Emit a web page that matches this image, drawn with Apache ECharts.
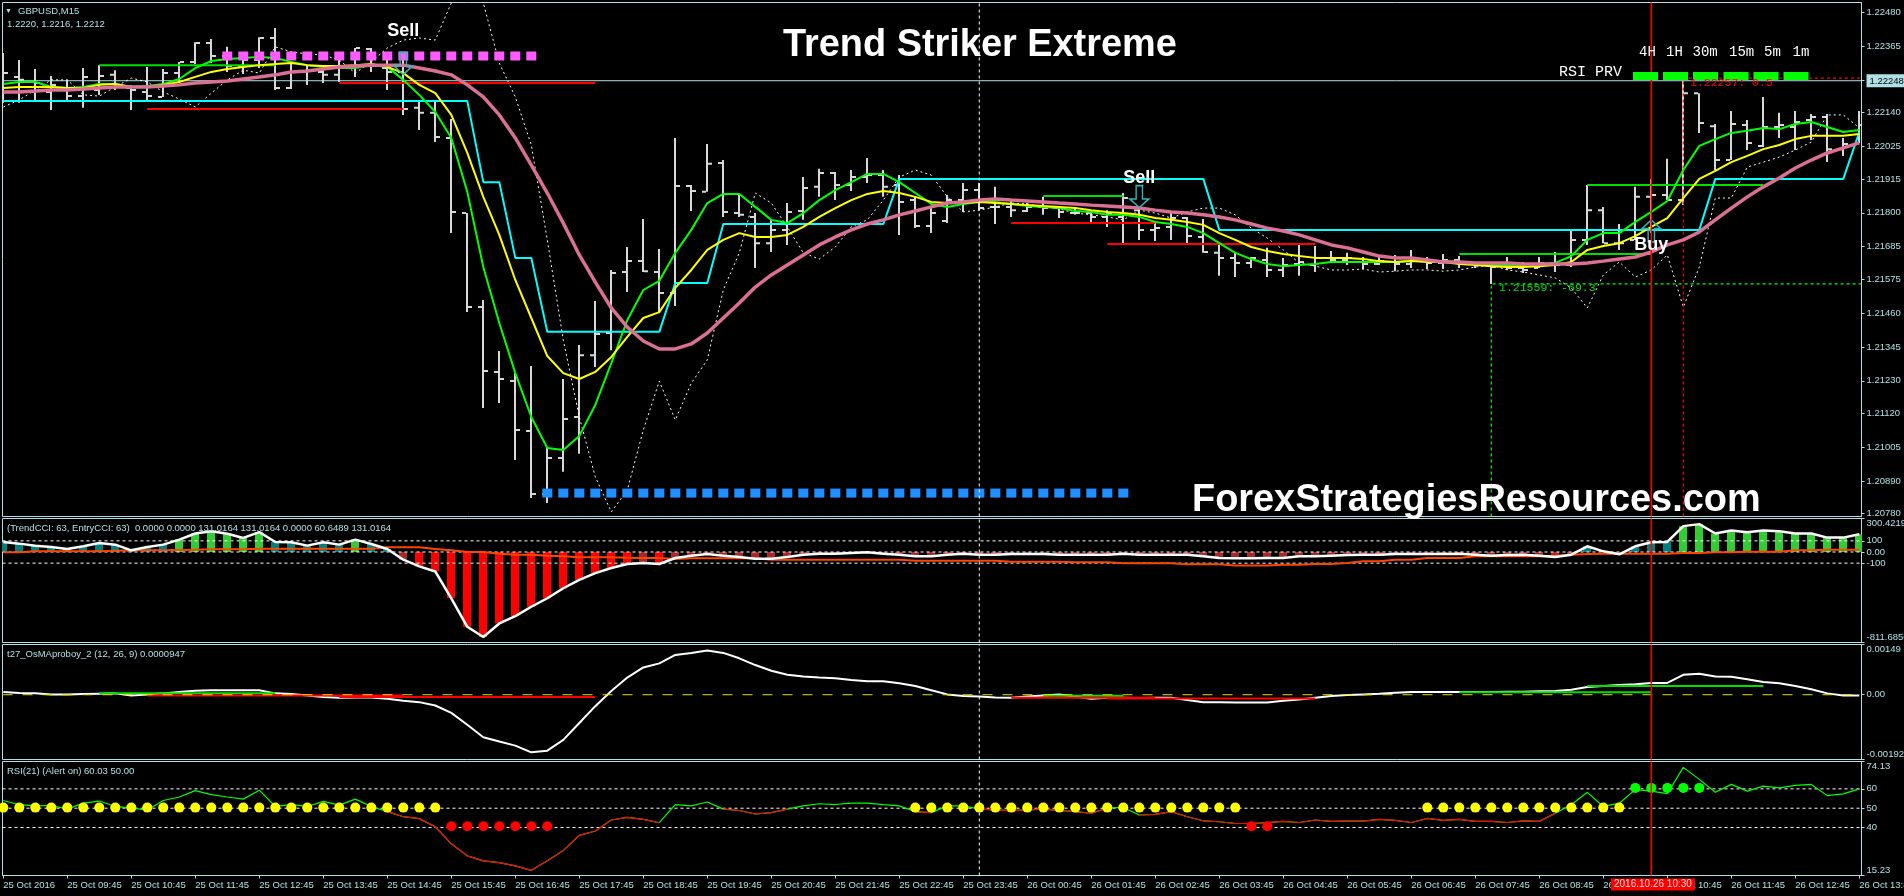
<!DOCTYPE html>
<html>
<head>
    <meta charset="UTF-8">
    <title>Trend Striker Extreme</title>
    <script src="https://cdn.jsdelivr.net/npm/echarts@6/dist/echarts.min.js"></script>
    <style>
        html, body { margin: 0; padding: 0; background: #000; overflow: hidden; }
        #chart { width: 1904px; height: 896px; }
    </style>
</head>
<body>
<div id="chart"></div>
<script>
    // x tick labels, one every 4 bars (M15)
    var timeLabels = ['25 Oct 2016','25 Oct 09:45','25 Oct 10:45','25 Oct 11:45','25 Oct 12:45','25 Oct 13:45','25 Oct 14:45','25 Oct 15:45','25 Oct 16:45','25 Oct 17:45',
        '25 Oct 18:45','25 Oct 19:45','25 Oct 20:45','25 Oct 21:45','25 Oct 22:45','25 Oct 23:45','26 Oct 00:45','26 Oct 01:45','26 Oct 02:45','26 Oct 03:45',
        '26 Oct 04:45','26 Oct 05:45','26 Oct 06:45','26 Oct 07:45','26 Oct 08:45','26 Oct 09:45','26 Oct 10:45','26 Oct 11:45','26 Oct 12:45','26 Oct 13:45'];

    // prices are kept in points, 1 point = 0.00001
    var barOpen = [122278,122261,122210,122210,122217,122196,122217,122268,122223,122210,
        122193,122274,122312,122376,122332,122298,122318,122393,122223,122278,
        122278,122268,122291,122356,122291,122278,122156,122139,122054,121799,
        121480,121260,121229,121060,120846,120968,121107,121317,121392,121599,
        121636,121599,121528,121891,121871,121969,121799,121786,121697,121742,
        121806,121888,121935,121894,121921,121928,121894,121843,121755,121772,
        121843,121877,121820,121820,121806,121820,121816,121799,121799,121786,
        121786,121809,121742,121752,121782,121718,121664,121647,121630,121640,
        121606,121626,121623,121647,121640,121633,121626,121633,121626,121640,
        121630,121640,121630,121623,121619,121613,121613,121630,121623,121708,
        121809,121697,121708,121854,121860,121843,122206,122094,121979,122098,
        122027,122091,122091,122115,122125,122016,122033];
    var barClose = [122274,122251,122240,122234,122196,122261,122264,122234,122217,122196,
        122274,122312,122376,122332,122298,122318,122393,122223,122278,122281,
        122268,122291,122359,122325,122278,122152,122139,122057,121803,121480,
        121263,121236,121063,120846,120968,121100,121317,121389,121596,121636,
        121602,121528,121891,121874,121966,121803,121793,121697,121742,121803,
        121884,121935,121894,121921,121928,121888,121837,121755,121799,121843,
        121877,121816,121820,121809,121820,121816,121803,121799,121786,121799,
        121850,121742,121748,121782,121721,121667,121647,121630,121647,121606,
        121623,121633,121647,121640,121647,121626,121636,121626,121640,121630,
        121640,121630,121623,121616,121613,121606,121630,121623,121708,121809,
        121697,121697,121854,121860,121843,122206,122105,121979,122101,122037,
        122091,122098,122108,122125,122016,122033,122098];
    var barHigh = [122342,122318,122288,122264,122251,122291,122301,122284,122234,122295,
        122288,122312,122379,122390,122363,122342,122396,122427,122308,122301,
        122295,122335,122359,122359,122335,122342,122176,122176,122118,121799,
        121504,121331,121256,121280,121002,121236,121351,121501,121606,121684,
        121779,121677,122054,121894,122033,121979,121860,121799,121776,121833,
        121921,121949,121938,121945,121986,121945,121928,121854,121820,121860,
        121901,121901,121888,121843,121833,121854,121820,121816,121809,121809,
        121867,121820,121769,121799,121786,121779,121691,121667,121650,121681,
        121647,121691,121687,121670,121664,121650,121650,121657,121674,121650,
        121660,121653,121633,121630,121650,121633,121650,121667,121738,121894,
        121820,121762,121888,121915,121983,122247,122206,122101,122145,122115,
        122193,122139,122145,122135,122135,122054,122145];
    var barLow = [122173,122173,122183,122149,122183,122156,122200,122217,122149,122183,
        122193,122240,122305,122308,122278,122271,122291,122217,122220,122234,
        122240,122244,122261,122278,122217,122132,122081,122040,121731,121463,
        121138,121155,120961,120832,120815,120921,120982,121277,121334,121531,
        121599,121463,121484,121806,121871,121786,121786,121613,121667,121691,
        121776,121854,121843,121874,121901,121854,121725,121748,121731,121765,
        121803,121809,121762,121786,121803,121793,121782,121793,121769,121752,
        121697,121708,121704,121708,121697,121664,121586,121582,121613,121582,
        121582,121586,121599,121630,121623,121609,121623,121602,121613,121609,
        121609,121613,121613,121558,121606,121596,121613,121599,121616,121691,
        121697,121674,121708,121731,121843,121826,122071,121945,121979,122013,
        122023,122054,122013,122047,121972,121993,122037];

    var greenMa = [122237,122244,122244,122227,122223,122227,122237,122237,122227,122230,
        122237,122254,122291,122315,122322,122325,122329,122325,122312,122301,
        122295,122291,122291,122301,122295,122251,122200,122142,122054,121871,
        121616,121426,121256,121107,121002,120995,121043,121148,121290,121436,
        121538,121569,121664,121742,121833,121864,121864,121820,121776,121765,
        121799,121843,121877,121904,121932,121932,121904,121867,121830,121820,
        121830,121837,121837,121830,121823,121820,121816,121806,121803,121793,
        121793,121786,121769,121762,121752,121731,121697,121664,121643,121626,
        121619,121623,121626,121633,121633,121633,121633,121633,121636,121636,
        121636,121633,121630,121623,121623,121623,121626,121630,121653,121708,
        121731,121731,121769,121803,121840,121945,122027,122050,122071,122078,
        122088,122084,122101,122108,122091,122074,122081];
    var yellowMa = [122223,122227,122227,122227,122223,122223,122234,122237,122227,122227,
        122234,122244,122261,122278,122288,122295,122301,122305,122308,122301,
        122298,122298,122301,122305,122295,122274,122234,122206,122132,122003,
        121854,121725,121572,121443,121314,121256,121236,121260,121311,121379,
        121443,121463,121545,121606,121674,121708,121731,121718,121718,121725,
        121752,121786,121816,121843,121864,121874,121867,121854,121837,121833,
        121833,121837,121833,121830,121826,121823,121820,121816,121809,121803,
        121799,121793,121782,121776,121769,121759,121731,121708,121684,121670,
        121660,121653,121647,121647,121647,121643,121636,121633,121636,121633,
        121633,121626,121623,121619,121616,121616,121619,121623,121633,121674,
        121687,121697,121721,121752,121782,121850,121915,121942,121972,121993,
        122016,122030,122050,122061,122061,122061,122067];
    var pinkMa = [122210,122210,122213,122217,122217,122220,122223,122227,122227,122227,
        122230,122234,122240,122244,122247,122254,122261,122268,122278,122281,
        122288,122295,122298,122301,122301,122301,122291,122281,122268,122234,
        122193,122132,122054,121962,121867,121765,121657,121565,121477,121412,
        121365,121338,121338,121355,121392,121443,121494,121548,121589,121623,
        121657,121691,121718,121742,121762,121776,121793,121806,121820,121833,
        121837,121843,121847,121843,121840,121837,121833,121830,121826,121823,
        121820,121816,121809,121803,121799,121793,121786,121776,121762,121748,
        121738,121725,121708,121691,121681,121667,121653,121647,121647,121640,
        121633,121633,121630,121630,121630,121626,121626,121626,121626,121630,
        121636,121643,121650,121667,121691,121708,121735,121776,121816,121854,
        121888,121918,121952,121979,122003,122020,122037];
    var dottedLine = [122159,122183,122217,122251,122251,122200,122196,122227,122257,122244,
        122210,122186,122159,122206,122251,122284,122274,122363,122346,122339,
        122335,122318,122274,122312,122359,122386,122393,122386,122512,122590,
        122512,122308,122193,122030,121708,121368,121107,120904,120785,120859,
        121063,121229,121097,121222,121301,121538,121664,121867,121833,121752,
        121664,121643,121684,121752,121776,121843,121921,121945,121928,121854,
        121803,121809,121820,121833,121830,121820,121813,121799,121793,121786,
        121776,121809,121799,121782,121803,121816,121816,121793,121748,121714,
        121674,121630,121619,121606,121606,121609,121599,121602,121606,121606,
        121602,121606,121616,121623,121606,121599,121589,121579,121545,121477,
        121589,121633,121582,121606,121657,121480,121616,121850,121850,121955,
        121972,121989,122013,122040,122132,122132,122088];
    // cyan stop line: first bar, last bar, level
    var stopRuns = [[0,29,122179],[30,31,121904],[32,33,121647],[34,41,121396],[42,44,121562],[45,55,121762],
        [56,75,121915],[76,106,121742],[107,115,121915],[116,116,122074]];

    // level segments: first bar, last bar, price level, osma level
    var greenSegments = [[6,17,122301,4],[65,70,121857,-3],[91,103,121660,7],[99,110,121894,26]];
    var redSegments = [[9,25,122152,-2],[21,37,122240,-7],[63,72,121765,-9],[69,82,121694,-11]];

    var magentaRange = [14,33], magentaLevel = 122332;
    var blueRange = [34,70], blueLevel = 120849;

    // signal arrows and their captions
    var arrowDownX = [25,71], arrowDownY = [122307,121855];
    var arrowUpX = [103], arrowUpY = [121738];
    var signalX = [25,71,103], signalY = [122417,121918,121691], signalText = ['Sell','Sell','Buy'];

    var priceTicks = [120780,120890,121005,121120,121230,121345,121460,121575,121685,121800,121915,122025,122140,122248,122365,122480];
    var currentPrice = 122248;

    var cciLine = [90,75,57,45,27,51,81,66,15,45,
        66,111,166,187,163,126,178,90,87,57,
        87,66,111,72,27,-69,-129,-175,-415,-671,
        -762,-641,-575,-491,-415,-325,-250,-190,-144,-108,
        -99,-108,-54,-33,-18,-33,-45,-60,-60,-45,
        -24,-15,-15,-9,-3,-15,-24,-39,-39,-24,
        -15,-24,-24,-18,-18,-18,-24,-24,-24,-24,
        -15,-24,-24,-24,-24,-39,-54,-57,-57,-54,
        -54,-39,-39,-33,-27,-24,-24,-18,-18,-18,
        -18,-15,-24,-33,-27,-24,-33,-45,-24,51,
        6,-21,51,87,90,232,250,166,193,178,
        193,187,166,166,129,129,160];
    var cciTrend = [-3,-3,6,6,6,6,6,12,15,15,
        15,18,21,24,24,24,30,30,30,30,
        30,30,30,30,42,42,42,27,15,0,
        0,-15,-24,-24,-33,-39,-48,-48,-48,-51,
        -54,-54,-63,-57,-57,-57,-57,-57,-69,-69,
        -69,-69,-69,-69,-69,-69,-69,-78,-78,-78,
        -78,-78,-78,-87,-87,-87,-87,-93,-93,-93,
        -102,-102,-102,-102,-111,-111,-111,-120,-120,-120,
        -114,-114,-108,-108,-99,-84,-84,-69,-69,-54,
        -54,-54,-39,-39,-39,-39,-39,-33,-24,-18,
        -15,-15,-15,-15,-15,-9,-9,-3,-3,3,
        3,3,15,15,21,21,21];
    var cciTicks = [-811.6856,-100,0,100,300.4219];
    var cciTickText = ['-811.6856','-100','0.00','100','300.4219'];
    var cciLevels = [100,0,-100];

    // osma in points too
    var osmaLine = [8,5,4,1,1,2,3,4,-2,1,
        4,8,12,13,13,13,13,4,2,-2,
        -7,-9,-8,-8,-12,-18,-22,-32,-54,-89,
        -126,-139,-151,-171,-166,-134,-84,-34,11,51,
        81,93,118,124,131,124,108,88,71,59,
        54,51,49,44,40,40,34,26,13,1,
        -4,-5,-8,-9,-5,-2,1,-6,-12,-9,
        -9,-10,-9,-9,-16,-22,-22,-23,-23,-23,
        -18,-14,-9,-4,-1,1,3,6,8,8,
        8,8,8,8,9,9,10,11,15,23,
        26,29,31,35,35,59,62,54,53,46,
        38,34,26,16,4,-2,-2];
    var osmaTicks = [-192.2,0,149];
    var osmaTickText = ['-0.001922','0.00','0.00149'];

    var rsiLine = [54,51.8,51.2,51.4,49.5,52.6,53.7,50.9,50,49.1,
        54,55.8,59.1,57,55.8,54.7,59.3,50.9,51.8,50.9,
        53.5,51.6,54.7,50.9,48.2,45.6,44.6,40.4,31.6,25.4,
        22.8,21.9,20.2,17.9,22.8,28.1,36,38.2,43.9,45.3,
        44.2,42.5,51.8,51.2,53.2,49.5,48.8,47,47.7,49.5,
        51.2,52.3,51.9,52.6,52.6,51.8,51.2,48.2,47.7,51.2,
        51.2,49.5,49.1,48.8,49.1,49.5,48.8,48.2,47.4,50,
        50.4,46.5,46.8,48.2,45.6,43.5,43,42.1,42.1,42.5,
        43.2,42.6,43.9,43.2,43.3,43.3,44.2,43.7,42.6,44.7,
        43.7,44.2,43.2,43.2,42.6,43.5,43.2,47.4,51.8,58.2,
        50.9,52.6,59.6,58.8,57.5,71.1,64.9,58.2,62.3,58.8,
        61.4,60.5,61.8,62.3,56.5,57.4,60];
    var rsiRedRanges = [[24,41],[45,49],[57,58],[61,69],[71,97]];
    var rsiTicks = [15.23,40,50,60,74.13];
    var rsiLevels = [60,50,40];
    // dots: first bar, last bar, level
    var yellowDots = [[0,27,50.3],[57,77,50.3],[89,101,50.3]];
    var redDots = [[28,34,40.7],[78,79,40.7]];
    var greenDots = [[102,106,60.5]];

    var lineBar = 61;      // white crosshair
    var redBar = 103;      // red vertical
    var lowMark = {bar: 93, price: 121559};
    var highMark = {bar: 105, price: 122257};

    var FRAME = '#b0e0e6';
    var SANS = '"Liberation Sans", Arial, sans-serif';
    var MONO = '"Liberation Mono", "DejaVu Sans Mono", monospace';
    var X_MIN = -0.05, X_MAX = 116.1375;

    var panels = [
        {top: 2.5, height: 514, min: 120769.5, max: 122513.5},
        {top: 518.5, height: 124, min: -811.6856, max: 300.4219},
        {top: 644.5, height: 115, min: -192.2, max: 149},
        {top: 761.5, height: 114, min: 15.23, max: 74.13}
    ];

    function pairs(values) {
        return values.map(function (v, i) { return [i, v]; });
    }
    function fromRuns(runs) {
        var out = [];
        runs.forEach(function (r) {
            for (var i = r[0]; i <= r[1]; i++) out.push([i, r[2]]);
        });
        return out;
    }
    function segmentData(segs, col) {
        var out = [];
        segs.forEach(function (s) {
            out.push([s[0], s[col]], [s[1], s[col]], [null, null]);
        });
        return out;
    }
    function lineSeries(panel, data, color, width, z, dash) {
        return {
            type: 'line', xAxisIndex: panel, yAxisIndex: panel, data: data, z: z,
            showSymbol: false, silent: true, clip: true, connectNulls: false,
            lineStyle: {color: color, width: width, type: dash || 'solid', cap: 'butt'}
        };
    }
    function hLine(panel, value, color, width, dash, z) {
        return lineSeries(panel, [[X_MIN, value], [X_MAX, value]], color, width, z || 3, dash);
    }
    function vLine(panel, bar, color, width, dash, z) {
        return lineSeries(panel, [[bar, panels[panel].min], [bar, panels[panel].max]], color, width, z || 20, dash);
    }
    function scatter(panel, data, symbol, size, color, z) {
        return {
            type: 'scatter', xAxisIndex: panel, yAxisIndex: panel, data: data, symbol: symbol, symbolSize: size,
            silent: true, z: z || 12, itemStyle: {color: color, opacity: 1}
        };
    }

    // OHLC bars: high-low stem, open tick to the left, close tick to the right
    function renderBar(params, api) {
        var x = Math.round(api.coord([api.value(0), 0])[0]);
        var o = api.coord([api.value(0), api.value(1)])[1];
        var c = api.coord([api.value(0), api.value(2)])[1];
        var l = api.coord([api.value(0), api.value(3)])[1];
        var h = api.coord([api.value(0), api.value(4)])[1];
        var style = {fill: '#d8d8d8'};
        return {
            type: 'group',
            children: [
                {type: 'rect', shape: {x: x - 1, y: h, width: 2, height: l - h}, style: style},
                {type: 'rect', shape: {x: x - 5, y: o - 1, width: 4, height: 2}, style: style},
                {type: 'rect', shape: {x: x + 1, y: c - 1, width: 4, height: 2}, style: style}
            ]
        };
    }
    function renderHist(params, api) {
        var v = api.value(1);
        var x = api.coord([api.value(0), 0])[0];
        var zero = api.coord([api.value(0), 0])[1];
        var y = api.coord([api.value(0), v])[1];
        var color = v >= 100 ? '#32cd32' : v >= 0 ? '#008080' : v > -100 ? '#a52a2a' : '#ff0000';
        return {type: 'rect', shape: {x: Math.round(x) - 4, y: Math.min(y, zero), width: 8, height: Math.abs(y - zero)}, style: {fill: color}};
    }

    var barData = barOpen.map(function (o, i) { return [i, o, barClose[i], barLow[i], barHigh[i]]; });
    var stopLine = fromRuns(stopRuns);
    var rsiRed = rsiLine.map(function (v, i) {
        var red = rsiRedRanges.some(function (r) { return i >= r[0] && i <= r[1]; });
        return red ? [i, v] : [null, null];
    });

    var DOWN_ARROW = 'path://M7 0H13V14H19L10 23L1 14H7Z';
    var UP_ARROW = 'path://M7 23H13V9H19L10 0L1 9H7Z';

    var series = [
        {type: 'custom', xAxisIndex: 0, yAxisIndex: 0, data: barData, renderItem: renderBar, z: 2, silent: true, clip: true,
            encode: {x: 0, y: [1, 2, 3, 4]}},
        hLine(0, currentPrice, FRAME, 1, 'solid', 3),
        lineSeries(0, pairs(dottedLine), '#ffffff', 1, 4, [2, 3]),
        lineSeries(0, [[lowMark.bar, panels[0].min], [lowMark.bar, lowMark.price], [X_MAX, lowMark.price]], '#00ff00', 1.2, 4, [3, 3]),
        lineSeries(0, [[highMark.bar, panels[0].min], [highMark.bar, highMark.price], [X_MAX, highMark.price]], '#ff0000', 1.2, 4, [3, 3]),
        lineSeries(0, segmentData(greenSegments, 2), '#00e000', 2, 5),
        lineSeries(0, segmentData(redSegments, 2), '#ff0000', 2, 5),
        lineSeries(0, stopLine, '#00ffff', 2, 6),
        lineSeries(0, pairs(greenMa), '#00ff00', 2, 7),
        lineSeries(0, pairs(yellowMa), '#ffff00', 2, 8),
        lineSeries(0, pairs(pinkMa), '#db7093', 3.5, 9),
        scatter(0, fromRuns([[magentaRange[0], magentaRange[1], magentaLevel]]), 'rect', [10, 9], '#ff5cff'),
        scatter(0, fromRuns([[blueRange[0], blueRange[1], blueLevel]]), 'rect', [10, 9], '#1e90ff'),
        {type: 'scatter', xAxisIndex: 0, yAxisIndex: 0, symbol: DOWN_ARROW, symbolSize: [19, 22], silent: true, z: 13,
            data: arrowDownX.map(function (x, i) { return [x, arrowDownY[i]]; }),
            itemStyle: {color: 'transparent', borderColor: '#35b5b5', borderWidth: 1.5, opacity: 1}},
        {type: 'scatter', xAxisIndex: 0, yAxisIndex: 0, symbol: UP_ARROW, symbolSize: [19, 22], silent: true, z: 13,
            data: arrowUpX.map(function (x, i) { return [x, arrowUpY[i]]; }),
            itemStyle: {color: 'transparent', borderColor: '#35b5b5', borderWidth: 1.5, opacity: 1}},
        {type: 'scatter', xAxisIndex: 0, yAxisIndex: 0, symbolSize: 1, silent: true, z: 30,
            data: signalX.map(function (x, i) { return {value: [x, signalY[i]], name: signalText[i]}; }),
            itemStyle: {color: '#000', opacity: 1},
            label: {show: true, position: 'inside', formatter: '{b}', color: '#fff', opacity: 1, fontFamily: SANS, fontWeight: 'bold', fontSize: 18}},

        {type: 'custom', xAxisIndex: 1, yAxisIndex: 1, data: pairs(cciLine), renderItem: renderHist, z: 2, silent: true, clip: true,
            encode: {x: 0, y: 1}},
        lineSeries(1, pairs(cciTrend), '#ff4500', 2, 5),
        lineSeries(1, pairs(cciLine), '#ffffff', 2.5, 6),

        lineSeries(2, pairs(osmaLine), '#ffffff', 2, 4),
        lineSeries(2, segmentData(greenSegments, 3), '#00e000', 2, 5),
        lineSeries(2, segmentData(redSegments, 3), '#ff0000', 2, 5),
        hLine(2, 0, '#e0e000', 1, [10, 10], 6),

        lineSeries(3, pairs(rsiLine), '#00ff00', 1.2, 4),
        lineSeries(3, rsiRed, '#ff0000', 1.2, 5),
        scatter(3, fromRuns(yellowDots), 'circle', 10, '#ffff00'),
        scatter(3, fromRuns(redDots), 'circle', 10, '#ff0000'),
        scatter(3, fromRuns(greenDots), 'circle', 10, '#00ff00')
    ];
    cciLevels.forEach(function (v) { series.push(hLine(1, v, '#ffffff', 1, [3, 3], 4)); });
    rsiLevels.forEach(function (v) { series.push(hLine(3, v, '#ffffff', 1, [3, 3], 3)); });
    panels.forEach(function (p, i) {
        series.push(vLine(i, lineBar, '#ffffff', 1, [3, 3], 20));
        series.push(vLine(i, redBar, '#ff0000', 1.5, 'solid', 21));
    });

    function yAxisFor(i, ticks, format, rich) {
        return {
            type: 'value', gridIndex: i, position: 'right', min: panels[i].min, max: panels[i].max, scale: true,
            splitLine: {show: false},
            axisLine: {show: true, onZero: false, lineStyle: {color: FRAME, width: 1}},
            axisTick: {show: true, length: 3, customValues: ticks, lineStyle: {color: FRAME}},
            axisLabel: {
                show: true, customValues: ticks, formatter: format, margin: 5, color: FRAME,
                fontFamily: SANS, fontSize: 9.5, rich: rich,
                verticalAlignMinLabel: i === 0 ? 'middle' : 'bottom',
                verticalAlignMaxLabel: i === 0 ? 'middle' : 'top'
            }
        };
    }
    function lookup(ticks, text) {
        return function (v) {
            var idx = ticks.indexOf(v);
            return idx < 0 ? '' : text[idx];
        };
    }
    var barTicks = timeLabels.map(function (t, i) { return i * 4; });

    function note(text, x, y, fill, font) {
        return {type: 'text', z: 50, style: {text: text, x: x, y: y, fill: fill, font: font, textVerticalAlign: 'middle'}};
    }
    var SMALL = '9.5px ' + SANS;
    var HEAD = 'bold 37.9px ' + SANS;
    var graphics = [
        note('\u25BC', 5, 11, FRAME, '7px ' + SANS),
        note('GBPUSD,M15', 18, 11, FRAME, SMALL),
        note('1.2220, 1.2216, 1.2212', 7, 24, FRAME, SMALL),
        note('(TrendCCI: 63, EntryCCI: 63)  0.0000 0.0000 131.0164 131.0164 0.0000 60.6489 131.0164', 7, 528, FRAME, SMALL),
        note('t27_OsMAproboy_2 (12, 26, 9) 0.0000947', 7, 654, FRAME, SMALL),
        note('RSI(21) (Alert on) 60.03 50.00', 7, 771, FRAME, SMALL),
        note('Trend Striker Extreme', 783, 46, '#ffffff', HEAD),
        note('ForexStrategiesResources.com', 1192, 501, '#ffffff', HEAD),
        note('1.21559: -69.3', 1499, 288, '#00e000', '11.5px ' + MONO),
        note('1.22257: 0.5', 1690, 83, '#ff0000', '11.5px ' + MONO),
        note('RSI PRV', 1559, 72, '#ffffff', '15px ' + MONO),
        note('4H', 1639, 52, '#ffffff', '14px ' + MONO),
        note('1H', 1666, 52, '#ffffff', '14px ' + MONO),
        note('30m', 1692.5, 52, '#ffffff', '14px ' + MONO),
        note('15m', 1729, 52, '#ffffff', '14px ' + MONO),
        note('5m', 1764, 52, '#ffffff', '14px ' + MONO),
        note('1m', 1792.5, 52, '#ffffff', '14px ' + MONO),
        {type: 'text', z: 50, style: {text: '2016.10.26 10:30', x: 1611, y: 884.5, fill: '#ffe0e0', font: '10px ' + SANS,
            textVerticalAlign: 'middle', backgroundColor: '#ff0000', padding: [1, 3, 1, 3]}}
    ];
    [1633, 1663, 1693, 1723.5, 1753.5, 1783.5].forEach(function (x) {
        graphics.push({type: 'rect', z: 40, shape: {x: x, y: 72, width: 25, height: 8}, style: {fill: '#00ff00'}});
    });

    var chart = echarts.init(document.getElementById('chart'), null, {renderer: 'canvas'});
    chart.setOption({
        animation: false,
        backgroundColor: '#000000',
        grid: panels.map(function (p) {
            return {left: 2.5, width: 1859, top: p.top, height: p.height, show: true, borderColor: FRAME, borderWidth: 1,
                backgroundColor: 'transparent', containLabel: false, outerBoundsMode: 'none'};
        }),
        xAxis: panels.map(function (p, i) {
            var last = i === panels.length - 1;
            return {
                type: 'value', gridIndex: i, min: X_MIN, max: X_MAX, position: 'bottom',
                splitLine: {show: false},
                axisLine: {show: last, onZero: false, lineStyle: {color: FRAME}},
                axisTick: {show: last, length: 3, customValues: barTicks, lineStyle: {color: FRAME}},
                axisLabel: {
                    show: last, customValues: barTicks, margin: 5, align: 'left', color: FRAME,
                    fontFamily: SANS, fontSize: 9.5, hideOverlap: false,
                    formatter: function (v) { return timeLabels[v / 4] || ''; }
                }
            };
        }),
        yAxis: [
            yAxisFor(0, priceTicks, function (v) {
                var s = (v / 1e5).toFixed(5);
                return v === currentPrice ? '{cur|' + s + '}' : s;
            }, {cur: {backgroundColor: FRAME, color: '#000', fontFamily: SANS, fontSize: 9.5, padding: [2, 2, 1, 3]}}),
            yAxisFor(1, cciTicks, lookup(cciTicks, cciTickText)),
            yAxisFor(2, osmaTicks, lookup(osmaTicks, osmaTickText)),
            yAxisFor(3, rsiTicks, function (v) { return String(v); })
        ],
        series: series,
        graphic: {elements: graphics}
    });
</script>
</body>
</html>
